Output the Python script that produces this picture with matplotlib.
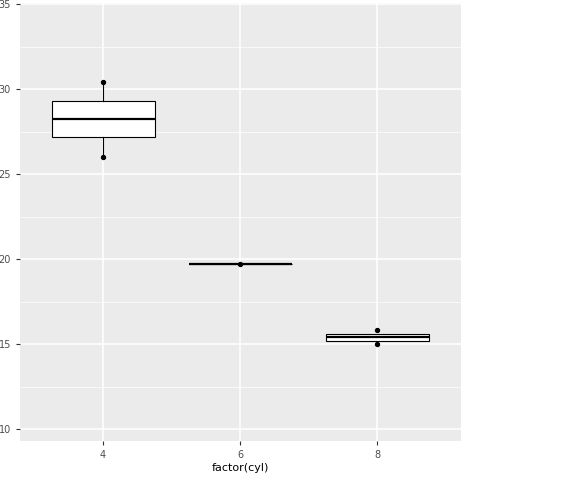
import matplotlib
matplotlib.use("Agg")
import matplotlib.pyplot as plt

cyl = ["4", "6", "8"]
q1 = [27.15, 19.7, 15.2]
med = [28.25, 19.7, 15.4]
q3 = [29.3, 19.7, 15.6]
whislo = [26.0, 19.7, 15.2]
whishi = [30.4, 19.7, 15.6]
points = [[26.0, 30.4], [19.7], [15.0, 15.8]]

fig = plt.figure(figsize=(5.65, 4.83), dpi=100)
ax = fig.add_axes([20 / 565, 42 / 483, 441 / 565, 438 / 483])
ax.set_facecolor("#EBEBEB")
for s in ax.spines.values():
    s.set_visible(False)

stats = []
for i in range(3):
    stats.append(dict(q1=q1[i], med=med[i], q3=q3[i], whislo=whislo[i],
                      whishi=whishi[i], fliers=[]))
ax.bxp(stats, positions=[1, 2, 3], widths=0.75, showcaps=False, patch_artist=True,
       boxprops=dict(facecolor="white", edgecolor="black", linewidth=0.8),
       medianprops=dict(color="black", linewidth=1.6),
       whiskerprops=dict(color="black", linewidth=0.8), zorder=2)
for i, p in enumerate(points):
    ax.scatter([i + 1] * len(p), p, s=8, color="black", zorder=3)

ax.set_xlim(0.394, 3.61)
ax.set_ylim(9.3, 35.06)
ax.set_yticks([10, 15, 20, 25, 30, 35])
ax.set_yticks([12.5, 17.5, 22.5, 27.5, 32.5], minor=True)
ax.set_xticks([1, 2, 3])
ax.set_xticklabels(cyl)
ax.grid(True, which="major", color="white", linewidth=1.1, zorder=0)
ax.grid(True, which="minor", axis="y", color="white", linewidth=0.5, zorder=0)
ax.set_axisbelow(True)
ax.tick_params(which="both", length=3, color="#333333", labelsize=7, labelcolor="#4D4D4D")
ax.tick_params(which="minor", length=0)
ax.set_xlabel("factor(cyl)", fontsize=8, labelpad=2)
ax.set_ylabel("mpg", fontsize=8, labelpad=1)

fig.savefig("out.png", dpi=100)
